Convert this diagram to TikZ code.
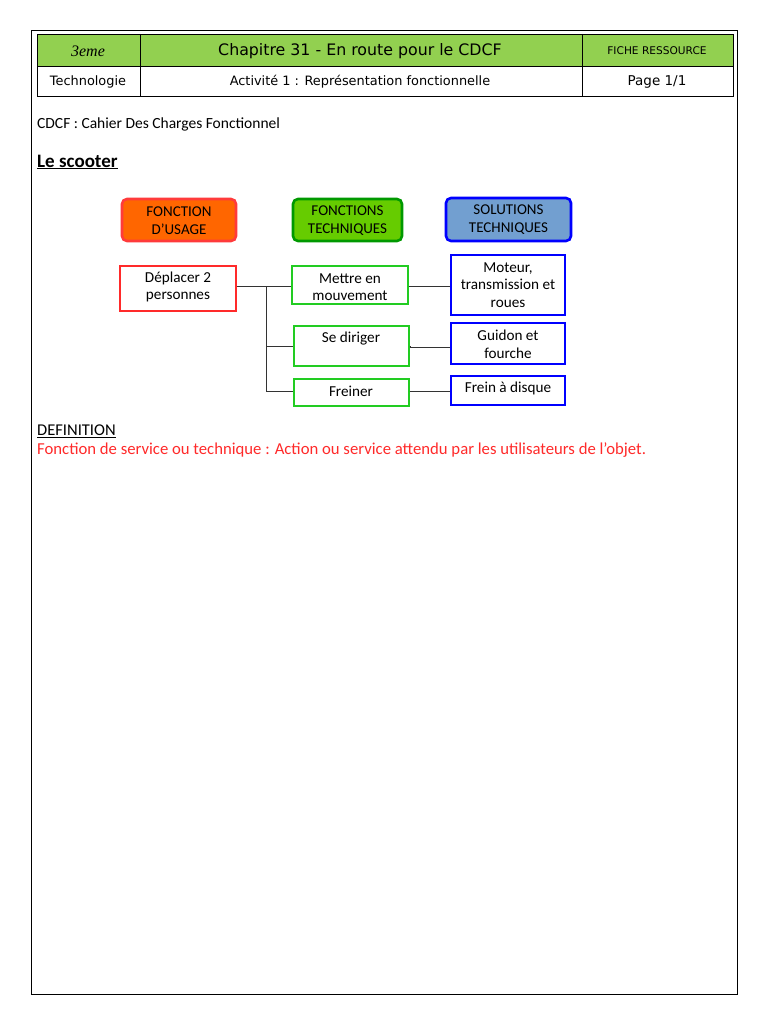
\documentclass[tikz,border=0pt]{standalone}
\usepackage{fontspec}
\setmainfont{Carlito}
\newfontfamily\hdr{DejaVu Sans}
\newfontfamily\scr{Liberation Serif}
\definecolor{hgreen}{HTML}{92D050}
\definecolor{ofill}{HTML}{FF6600}
\definecolor{oline}{HTML}{FF3B3B}
\definecolor{gfill}{HTML}{66CC00}
\definecolor{gline}{HTML}{009900}
\definecolor{bfill}{HTML}{729FD0}
\definecolor{bline}{HTML}{0000FF}
\definecolor{rbox}{HTML}{FF2A2A}
\definecolor{gbox}{HTML}{22CC22}
\definecolor{deftxt}{HTML}{FF2A2A}
\begin{document}
\begin{tikzpicture}[x=1pt,y=-1pt,
  txt/.style={inner sep=0pt,align=center,font=\fontsize{15.2}{17.5}\selectfont},
  hdrbox/.style={rounded corners=5pt,line width=2.6pt,inner sep=0pt,align=center,font=\fontsize{15}{18}\selectfont},
  fbox/.style={draw,line width=1.3pt,inner sep=0pt},
  link/.style={draw=black!80,line width=0.9pt}]
\useasboundingbox (0,0) rectangle (768,1024);
\fill[white] (0,0) rectangle (768,1024);
% page frame
\draw[line width=0.9pt] (31,30) rectangle (737,994);
% header table
\fill[hgreen] (37,34) rectangle (733,66);
\draw[line width=0.9pt] (37,34) rectangle (733,96);
\draw[line width=0.9pt] (37,66) -- (733,66);
\draw[line width=0.9pt] (140,34) -- (140,96);
\draw[line width=0.9pt] (582,34) -- (582,96);
\node[inner sep=0pt,font=\scr\itshape\fontsize{16}{18}\selectfont] (h1) at (88,51) {3eme};
\node[inner sep=0pt,font=\hdr\fontsize{15.8}{18}\selectfont] (h2) at (360,51) {Chapitre 31 - En route pour le CDCF};
\node[inner sep=0pt,font=\hdr\fontsize{10.6}{12}\selectfont] (h3) at (657,50.5) {FICHE RESSOURCE};
\node[inner sep=0pt,font=\hdr\fontsize{12.9}{14}\selectfont] (h4) at (88,82) {Technologie};
\node[inner sep=0pt,font=\hdr\fontsize{12.9}{14}\selectfont] (h5) at (360,82) {Activité 1 : Représentation fonctionnelle};
\node[inner sep=0pt,font=\hdr\fontsize{13.5}{14}\selectfont] (h6) at (657,82) {Page 1/1};
% intro
\node[anchor=west,inner sep=0pt,font=\fontsize{15.5}{18}\selectfont] (cdcf) at (37,124) {CDCF : Cahier Des Charges Fonctionnel};
\node[anchor=west,inner sep=0pt,font=\bfseries\fontsize{19}{21}\selectfont] (scoot) at (37,162) {\underline{Le scooter}};
% column headers
\node[hdrbox,draw=oline,fill=ofill,minimum width=114pt,minimum height=42pt] (fu) at (179,220) {};
\node[hdrbox,draw=gline,fill=gfill,minimum width=109pt,minimum height=42pt] (ft) at (347.5,220) {};
\node[hdrbox,draw=bline,fill=bfill,minimum width=125pt,minimum height=43pt] (st) at (508.5,219.5) {};
\node[hdrbox,draw=none] (tfu) at (179,221) {FONCTION\\D’USAGE};
\node[hdrbox,draw=none] (tft) at (347.5,221) {FONCTIONS\\TECHNIQUES};
\node[hdrbox,draw=none] (tst) at (508.5,220) {SOLUTIONS\\TECHNIQUES};
% boxes
\node[fbox,draw=rbox,minimum width=116pt,minimum height=45pt] (dep) at (178,288.5) {};
\node[fbox,draw=gbox,minimum width=116pt,minimum height=38pt] (mett) at (350,285) {};
\node[fbox,draw=gbox,minimum width=115pt,minimum height=40pt] (dir) at (351.5,346) {};
\node[fbox,draw=gbox,minimum width=115pt,minimum height=27pt] (fre) at (351.5,392.5) {};
\node[fbox,draw=bline,minimum width=114pt,minimum height=60pt] (mot) at (508,285) {};
\node[fbox,draw=bline,minimum width=114pt,minimum height=41pt] (gui) at (508,343.5) {};
\node[fbox,draw=bline,minimum width=114pt,minimum height=29pt] (fd) at (508,390.5) {};
% box texts
\node[txt] (tdep) at (178,287) {Déplacer 2\\personnes};
\node[txt] (tmett) at (350,287) {Mettre en\\mouvement};
\node[txt] (tdir) at (351,339) {Se diriger};
\node[txt] (tfre) at (351,391) {Freiner};
\node[txt] (tmot) at (508,285) {Moteur,\\transmission et\\roues};
\node[txt] (tgui) at (508,344.5) {Guidon et\\fourche};
\node[txt] (tfd) at (508,388) {Frein à disque};
% connectors
\coordinate (j1) at (266,286);
\coordinate (j2) at (266,346);
\coordinate (j3) at (266,391);
\draw[link] (dep.east |- j1) -- (mett.west |- j1);
\draw[link] (j1) -- (j3);
\draw[link] (j2) -- (dir.west |- j2);
\draw[link] (j3) -- (fre.west |- j3);
\draw[link] (mett.east |- j1) -- (mot.west |- j1);
\draw[link] (dir.east |- 0,346) -- (410,346) -- (410,347.5) -- (gui.west |- 0,347.5);
\draw[link] (fre.east |- j3) -- (fd.west |- j3);
% definition
\node[anchor=west,inner sep=0pt,font=\fontsize{16.5}{18}\selectfont] (defh) at (37,431) {\underline{DEFINITION}};
\node[anchor=west,inner sep=0pt,text=deftxt,font=\fontsize{16.7}{18}\selectfont] (deft) at (37,450) {Fonction de service ou technique : Action ou service attendu par les utilisateurs de l’objet.};
\end{tikzpicture}
\end{document}
